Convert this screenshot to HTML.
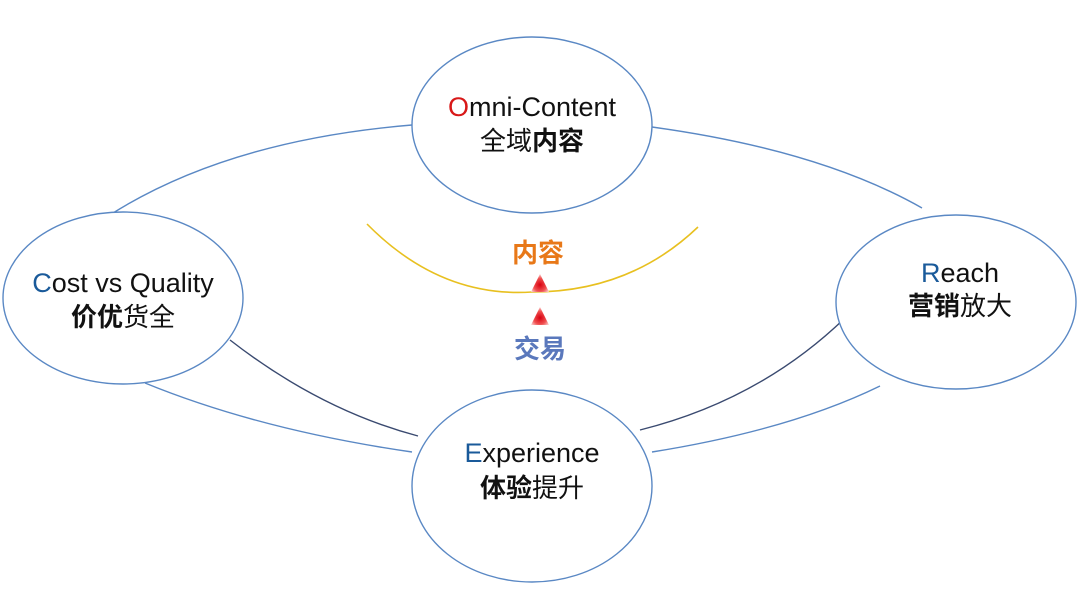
<!DOCTYPE html>
<html><head><meta charset="utf-8"><style>
html,body{margin:0;padding:0;background:#fff;}
svg text{font-family:"Liberation Sans","Noto Sans CJK SC",sans-serif;}
</style></head><body>
<svg width="1080" height="606" viewBox="0 0 1080 606" xmlns="http://www.w3.org/2000/svg">
<defs>
<radialGradient id="tg" cx="50%" cy="60%" r="60%">
<stop offset="0" stop-color="#d80010"/><stop offset="0.6" stop-color="#f05050"/><stop offset="1" stop-color="#fbd0d0"/>
</radialGradient>
</defs>
<g fill="none" stroke-width="1.4">
<path d="M113,213 Q230,140 412,125" stroke="#5a88c4"/>
<path d="M652,127 Q820,150 922,208" stroke="#5a88c4"/>
<path d="M230,340 Q320,410 418,436" stroke="#3a4a70"/>
<path d="M145,383 Q260,430 412,452" stroke="#5a88c4"/>
<path d="M845,318 Q760,400 640,430" stroke="#3a4a70"/>
<path d="M880,386 Q790,430 652,452" stroke="#5a88c4"/>
<path d="M367,224 Q440,298 532,292 Q630,292 698,227" stroke="#e8c020" stroke-width="1.6"/>
</g>
<g fill="#fff" stroke="#5a88c4" stroke-width="1.4">
<ellipse cx="532" cy="125" rx="120" ry="88"/>
<ellipse cx="123" cy="298" rx="120" ry="86"/>
<ellipse cx="956" cy="302" rx="120" ry="87"/>
<ellipse cx="532" cy="486" rx="120" ry="96"/>
</g>
<polygon points="540,274 531,292 549,292" fill="url(#tg)"/>
<polygon points="540,307 531,325 549,325" fill="url(#tg)"/>
<g font-size="26" text-anchor="middle" fill="#111">
<text x="532" y="116" font-size="27"><tspan fill="#d81818">O</tspan>mni-Content</text>
<text x="532" y="150">全域<tspan font-weight="bold">内容</tspan></text>
<text x="123" y="292" font-size="27"><tspan fill="#1a5a9a">C</tspan>ost vs Quality</text>
<text x="123" y="326"><tspan font-weight="bold">价优</tspan>货全</text>
<text x="960" y="282" font-size="27"><tspan fill="#1a5a9a">R</tspan>each</text>
<text x="960" y="315"><tspan font-weight="bold">营销</tspan>放大</text>
<text x="532" y="462" font-size="27"><tspan fill="#1a5a9a">E</tspan>xperience</text>
<text x="532" y="497"><tspan font-weight="bold">体验</tspan>提升</text>
<text x="538" y="262" fill="#e87818" font-weight="bold">内容</text>
<text x="540" y="358" fill="#5a78bc" font-weight="bold">交易</text>
</g>
</svg>
</body></html>
